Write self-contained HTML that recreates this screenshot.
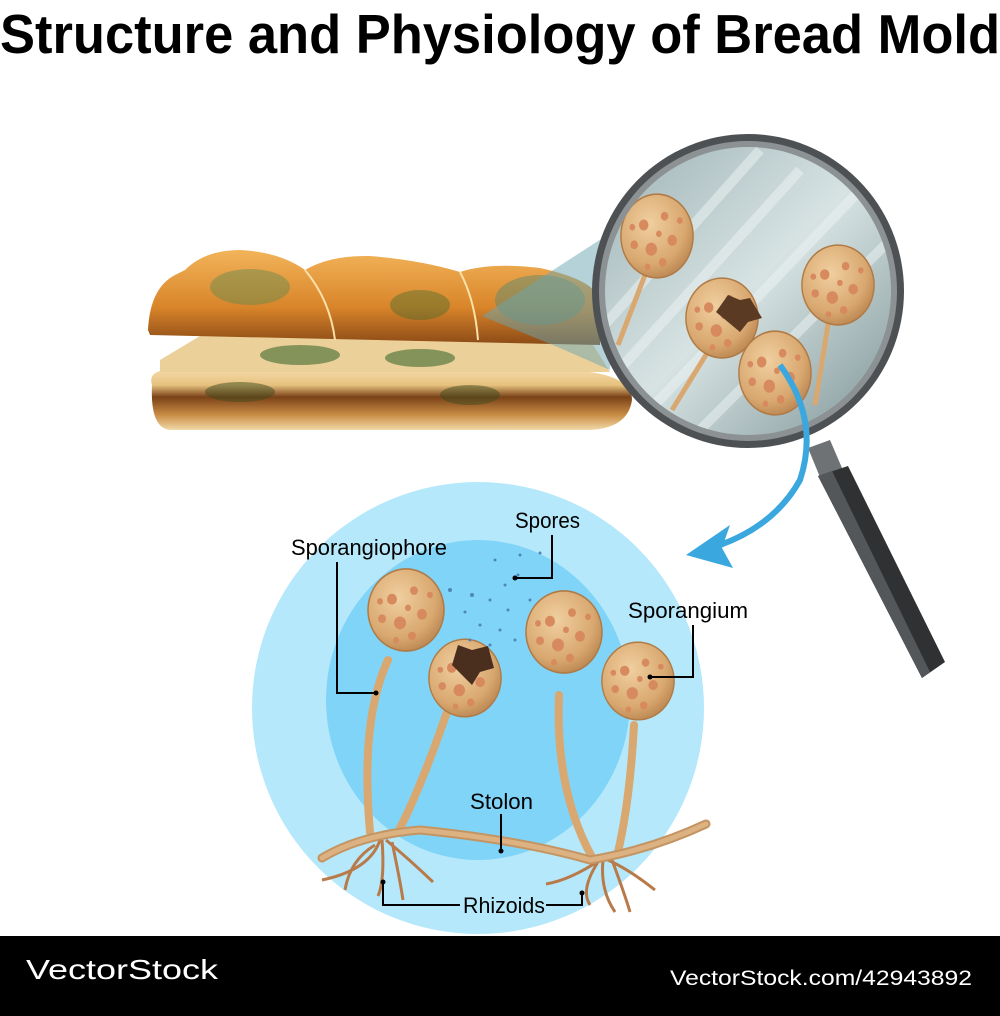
<!DOCTYPE html>
<html><head><meta charset="utf-8"><style>
html,body{margin:0;padding:0;background:#fff}
svg{display:block}
</style></head><body>
<svg width="1000" height="1016" viewBox="0 0 1000 1016" xmlns="http://www.w3.org/2000/svg">
<defs>
<radialGradient id="ball" cx="0.4" cy="0.35" r="0.7">
<stop offset="0" stop-color="#f0cf9f"/><stop offset="0.7" stop-color="#d9a870"/><stop offset="1" stop-color="#b98450"/>
</radialGradient>
<linearGradient id="bun" x1="0" y1="0" x2="0" y2="1">
<stop offset="0" stop-color="#f2b45a"/><stop offset="0.6" stop-color="#d9852a"/><stop offset="1" stop-color="#8a4a16"/>
</linearGradient>
<linearGradient id="slab" x1="0" y1="0" x2="0" y2="1">
<stop offset="0" stop-color="#f3d9a6"/><stop offset="0.25" stop-color="#e7c27f"/><stop offset="0.45" stop-color="#7a4218"/><stop offset="0.75" stop-color="#c98d45"/><stop offset="1" stop-color="#f1d8a8"/>
</linearGradient>
<linearGradient id="lens" x1="0" y1="0" x2="1" y2="1">
<stop offset="0" stop-color="#9fb3b6"/><stop offset="0.5" stop-color="#d7e3e3"/><stop offset="1" stop-color="#7f9597"/>
</linearGradient>
<clipPath id="lc"><ellipse cx="748" cy="291" rx="143" ry="144"/></clipPath>
<g id="sp">
<circle r="38" fill="url(#ball)" stroke="#b07a45" stroke-width="1.5"/>
<circle cx="-14" cy="-10" r="5" fill="#d88a5f"/><circle cx="8" cy="-18" r="4" fill="#d88a5f"/>
<circle cx="16" cy="4" r="5" fill="#d88a5f"/><circle cx="-6" cy="12" r="6" fill="#d88a5f"/>
<circle cx="-24" cy="8" r="4" fill="#d88a5f"/><circle cx="6" cy="24" r="4" fill="#d88a5f"/>
<circle cx="24" cy="-14" r="3" fill="#d88a5f"/><circle cx="-10" cy="28" r="3" fill="#d88a5f"/>
<circle cx="2" cy="-2" r="3" fill="#d88a5f"/><circle cx="-26" cy="-8" r="3" fill="#d88a5f"/>
</g>
</defs>

<text x="0" y="53" font-family="Liberation Sans, sans-serif" font-weight="bold" font-size="55" textLength="1000" lengthAdjust="spacingAndGlyphs" fill="#000">Structure and Physiology of Bread Mold</text>

<path d="M152,385 Q148,372 165,370 L590,372 Q632,378 632,400 Q628,428 590,430 L170,430 Q150,428 152,385 Z" fill="url(#slab)"/>
<path d="M160,360 L200,336 L590,340 L610,372 L160,372 Z" fill="#ecd09a"/>
<ellipse cx="300" cy="355" rx="40" ry="10" fill="#3d6a2e" opacity="0.6"/>
<ellipse cx="420" cy="358" rx="35" ry="9" fill="#3d6a2e" opacity="0.6"/>
<ellipse cx="240" cy="392" rx="35" ry="10" fill="#3d4a1e" opacity="0.5"/>
<ellipse cx="470" cy="395" rx="30" ry="10" fill="#3d4a1e" opacity="0.5"/>
<path d="M148,330 Q150,288 175,275 L185,270 Q205,250 240,250 Q280,252 305,270 Q330,255 370,256 Q420,260 460,272 Q490,262 540,268 Q595,280 600,300 L600,345 L150,335 Z" fill="url(#bun)"/>
<ellipse cx="250" cy="287" rx="40" ry="18" fill="#5d8a50" opacity="0.45"/>
<ellipse cx="420" cy="305" rx="30" ry="15" fill="#3d6a2e" opacity="0.4"/>
<ellipse cx="540" cy="300" rx="45" ry="25" fill="#5d8a70" opacity="0.5"/>
<path d="M305,270 Q330,300 335,340" stroke="#fbe0a8" stroke-width="2" fill="none"/>
<path d="M460,272 Q475,300 478,340" stroke="#fbe0a8" stroke-width="2" fill="none"/>
<polygon points="482,316 612,232 610,370 560,348" fill="#6aa6b0" opacity="0.5"/>

<polygon points="808,448 830,440 845,475 822,482" fill="#6f7275"/>
<polygon points="818,476 848,466 945,662 922,678" fill="#2f3133"/>
<polygon points="818,476 832,471 930,672 922,678" fill="#54575a"/>

<ellipse cx="748" cy="291" rx="156" ry="157" fill="#4e5154"/>
<ellipse cx="748" cy="291" rx="149" ry="150" fill="#8c9194"/>
<ellipse cx="748" cy="291" rx="143" ry="144" fill="url(#lens)"/>
<g clip-path="url(#lc)">
<g stroke="#eef4f4" stroke-width="10" opacity="0.5">
<line x1="600" y1="330" x2="760" y2="150"/><line x1="610" y1="380" x2="800" y2="170"/>
<line x1="640" y1="420" x2="860" y2="190"/><line x1="690" y1="440" x2="890" y2="240"/>
</g>
<path d="M650,262 L618,345" stroke="#d9a870" stroke-width="5"/>
<path d="M712,345 L672,410" stroke="#d9a870" stroke-width="5"/>
<path d="M830,312 L815,405" stroke="#d9a870" stroke-width="5"/>
<use href="#sp" transform="translate(657,236) scale(0.95,1.1)"/>
<use href="#sp" transform="translate(722,318) scale(0.95,1.05)"/>
<use href="#sp" transform="translate(838,285) scale(0.95,1.05)"/>
<use href="#sp" transform="translate(775,373) scale(0.95,1.1)"/>
<path d="M716,312 L728,295 L740,300 L750,298 L762,318 L748,322 L740,332 Z" fill="#5a3a22"/>
</g>
<path d="M780,365 Q820,420 800,480 Q775,525 720,545" stroke="#3aa8df" stroke-width="6" fill="none"/>
<polygon points="686,555 730,525 722,548 733,568" fill="#3aa8df"/>

<circle cx="478" cy="708" r="226" fill="#b5e8fb"/>
<ellipse cx="478" cy="700" rx="152" ry="160" fill="#80d4f8"/>

<g stroke="#d9a870" stroke-width="8" fill="none" stroke-linecap="round">
<path d="M388,660 Q360,720 370,832"/>
<path d="M447,712 Q420,790 398,832"/>
<path d="M559,695 Q555,790 592,857"/>
<path d="M634,725 Q630,800 618,852"/>
</g>
<g stroke="#b97a4a" stroke-width="3" fill="none">
<path d="M380,840 Q370,870 322,880"/><path d="M382,840 Q385,880 378,896"/><path d="M386,840 Q410,860 433,882"/>
<path d="M375,845 Q350,860 345,890"/><path d="M392,842 Q400,880 403,900"/>
<path d="M600,860 Q570,880 546,884"/><path d="M603,860 Q600,890 615,912"/><path d="M608,860 Q630,870 655,890"/>
<path d="M598,862 Q580,890 590,905"/><path d="M612,860 Q625,895 630,912"/>
</g>
<path d="M322,858 Q360,835 420,830 Q520,840 590,860 Q650,850 706,824" stroke="#c49563" stroke-width="9" fill="none" stroke-linecap="round"/>
<path d="M322,858 Q360,835 420,830 Q520,840 590,860 Q650,850 706,824" stroke="#dcb283" stroke-width="5" fill="none" stroke-linecap="round"/>

<use href="#sp" transform="translate(406,610) scale(1,1.08)"/>
<use href="#sp" transform="translate(465,678) scale(0.95,1.02)"/>
<use href="#sp" transform="translate(564,632) scale(1,1.08)"/>
<use href="#sp" transform="translate(638,681) scale(0.95,1.02)"/>
<path d="M452,665 L458,645 L472,650 L488,646 L494,668 L480,672 L472,685 Z" fill="#4a2e1e"/>
<g fill="#4f86b8">
<circle cx="450" cy="590" r="2"/><circle cx="472" cy="595" r="2"/><circle cx="490" cy="600" r="1.5"/><circle cx="505" cy="585" r="1.5"/>
<circle cx="495" cy="560" r="1.5"/><circle cx="520" cy="555" r="1.5"/><circle cx="508" cy="610" r="1.5"/><circle cx="480" cy="625" r="1.5"/>
<circle cx="465" cy="612" r="1.5"/><circle cx="500" cy="630" r="1.5"/><circle cx="515" cy="640" r="1.5"/><circle cx="490" cy="645" r="1.5"/>
<circle cx="530" cy="600" r="1.5"/><circle cx="518" cy="575" r="1.5"/><circle cx="540" cy="553" r="1.5"/><circle cx="470" cy="640" r="1.5"/>
</g>

<g stroke="#000" stroke-width="2" fill="none">
<polyline points="337,562 337,693 376,693"/>
<polyline points="552,535 552,578 515,578"/>
<polyline points="693,625 693,677 650,677"/>
<line x1="501" y1="814" x2="501" y2="851"/>
<polyline points="460,905 383,905 383,882"/>
<polyline points="546,905 582,905 582,893"/>
</g>
<g fill="#000"><circle cx="376" cy="693" r="2.5"/><circle cx="515" cy="578" r="2.5"/><circle cx="650" cy="677" r="2.5"/><circle cx="501" cy="851" r="2.5"/><circle cx="383" cy="882" r="2.5"/><circle cx="582" cy="893" r="2.5"/></g>
<g font-family="Liberation Sans, sans-serif" font-size="22" fill="#000">
<text x="291" y="555" textLength="156" lengthAdjust="spacingAndGlyphs">Sporangiophore</text>
<text x="515" y="528" textLength="65" lengthAdjust="spacingAndGlyphs">Spores</text>
<text x="628" y="618" textLength="120" lengthAdjust="spacingAndGlyphs">Sporangium</text>
<text x="470" y="809" textLength="63" lengthAdjust="spacingAndGlyphs">Stolon</text>
<text x="463" y="913" textLength="82" lengthAdjust="spacingAndGlyphs">Rhizoids</text>
</g>

<rect x="0" y="936" width="1000" height="80" fill="#000"/>
<text x="26" y="979" font-family="Liberation Sans, sans-serif" font-size="28" fill="#fff" textLength="192" lengthAdjust="spacingAndGlyphs">VectorStock</text>
<text x="670" y="985" font-family="Liberation Sans, sans-serif" font-size="21" fill="#fff" textLength="302" lengthAdjust="spacingAndGlyphs">VectorStock.com/42943892</text>
</svg>
</body></html>
